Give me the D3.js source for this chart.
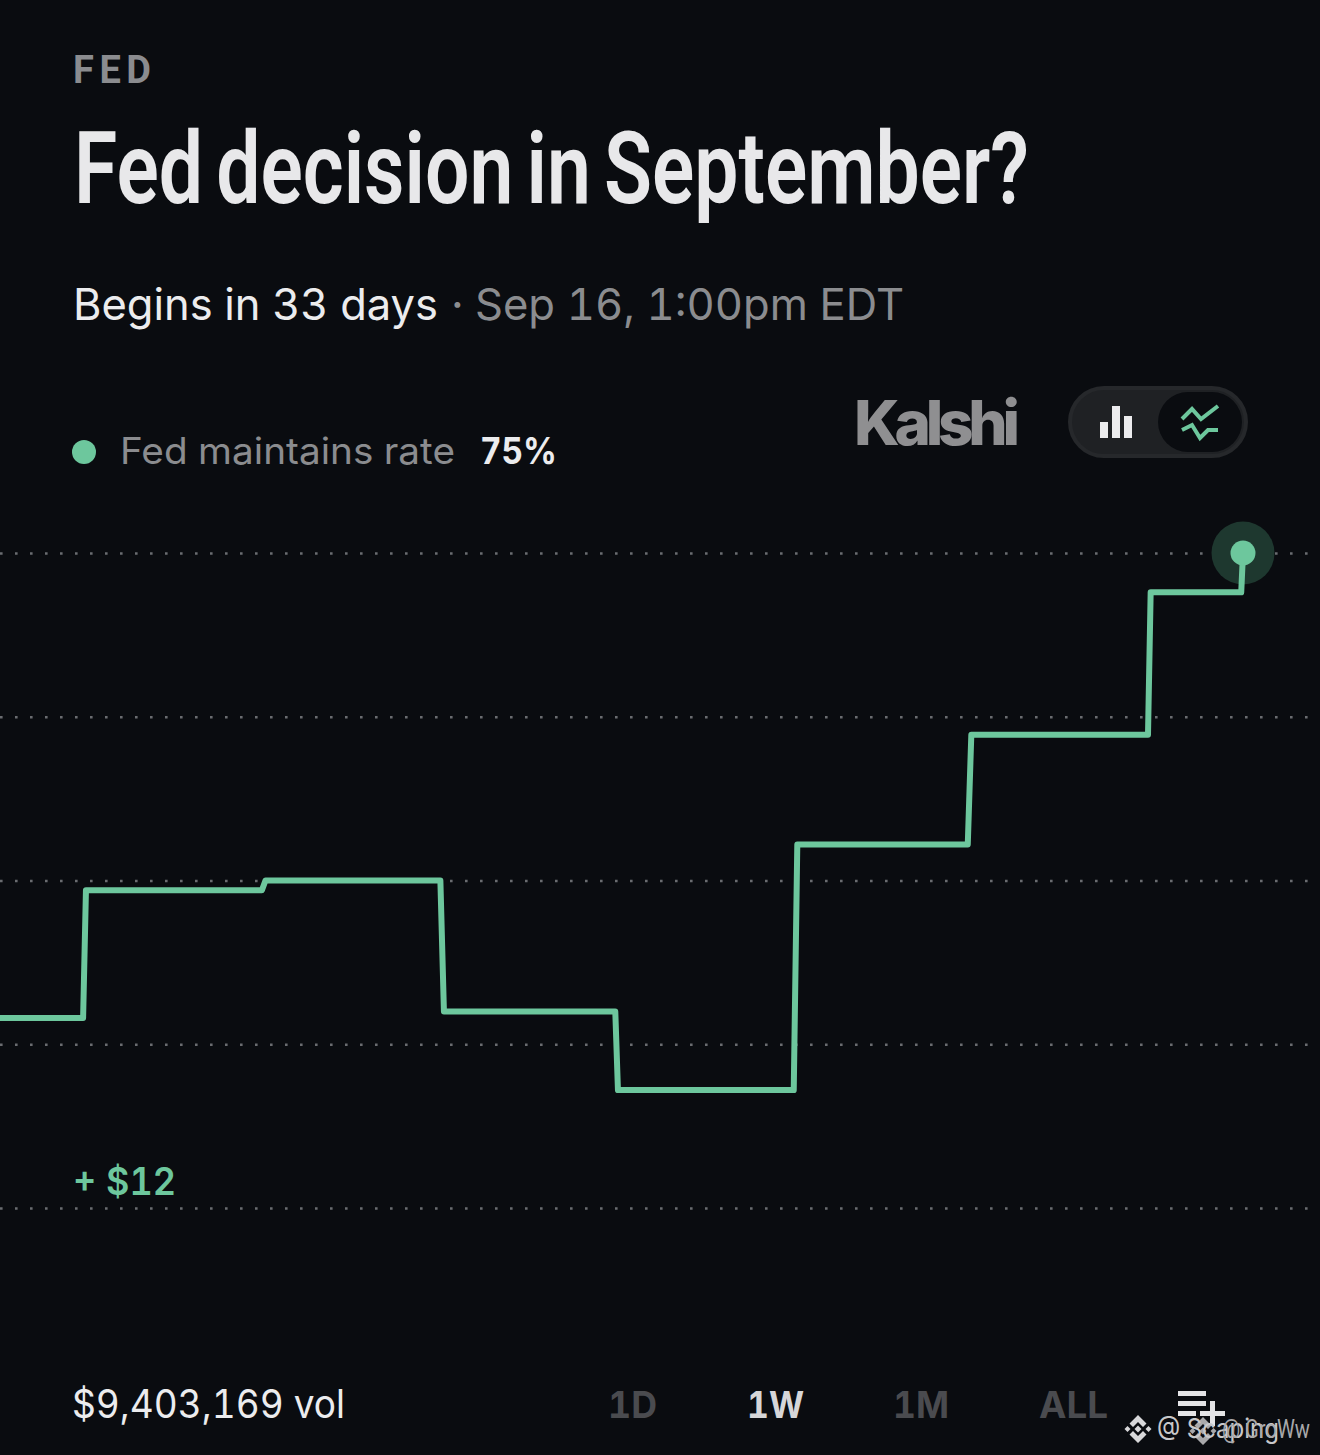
<!DOCTYPE html>
<html>
<head>
<meta charset="utf-8">
<style>
  html, body { margin: 0; padding: 0; background: #0a0c10; }
  svg { display: block; }
  text { font-family: Inter, Roboto, sans-serif; font-feature-settings: "tnum"; }
  .grid .domain { display: none; }
  .grid text { display: none; }
  .grid line { stroke: #6a6c70; stroke-width: 2.6; stroke-dasharray: 2.6 12.4; }
</style>
</head>
<body>
<svg width="1320" height="1455"></svg>
<script src="https://d3js.org/d3.v7.min.js"></script>
<script>
// days since start of the 1W window
var days = [0, 0.468, 0.484, 1.475, 1.495, 2.48, 2.50, 3.465, 3.48, 4.47, 4.49, 5.45, 5.47, 6.465, 6.48, 6.99, 7];
var chance = [60.8, 60.8, 64.7, 64.7, 65.0, 65.0, 61.0, 61.0, 58.6, 58.6, 66.1, 66.1, 69.45, 69.45, 73.8, 73.8, 75];
var gridTicks = [55, 60, 65, 70, 75];
var ranges = ["1D", "1W", "1M", "ALL"];

var green = "#6dc79d";
var svg = d3.select("svg");

var x = d3.scaleLinear().domain([0, 7]).range([0, 1243]);
var y = d3.scaleLinear().domain([55, 75]).range([1208, 553]);

function label(px, py, txt, size, weight, fill, width, adjust) {
    var t = svg.append("text")
        .attr("x", px).attr("y", py)
        .attr("font-size", size)
        .attr("font-weight", weight)
        .attr("fill", fill)
        .text(txt);
    if (width) t.attr("textLength", width).attr("lengthAdjust", adjust || "spacingAndGlyphs");
    return t;
}

// header
label(73, 83, "FED", 38, 700, "#8b8c8f", 78, "spacing").style("font-family", "Roboto");
label(74, 203, "Fed decision in September?", 100, 600, "#e8e8ea", 955)
    .style("font-family", "Roboto").style("word-spacing", "-8px");
label(73, 320, "Begins in 33 days", 44, 400, "#ececee", 365);
label(451, 320, "·", 44, 400, "#8b8c8f");
label(475, 320, "Sep 16, 1:00pm EDT", 44, 400, "#8b8c8f", 429);

// legend
svg.append("circle").attr("cx", 84).attr("cy", 452).attr("r", 12).attr("fill", green);
label(120, 464, "Fed maintains rate", 37, 400, "#8b8c8f", 335);
label(480, 464, "75%", 37, 700, "#ececee", 77);

// logo and toggle
label(854, 445, "Kalshi", 62, 800, "#8f8f91", 166, "spacing");
svg.append("rect").attr("x", 1070).attr("y", 388).attr("width", 176).attr("height", 68).attr("rx", 34)
    .attr("fill", "#1f2124").attr("stroke", "#26282b").attr("stroke-width", 4);
svg.append("rect").attr("x", 1158).attr("y", 392).attr("width", 84).attr("height", 60).attr("rx", 30)
    .attr("fill", "#0a0c10");
[[1100, 422, 16], [1112, 406, 32], [1124, 416, 22]].forEach(function(b) {
    svg.append("rect").attr("x", b[0]).attr("y", b[1]).attr("width", 8).attr("height", b[2]).attr("fill", "#ececee");
});
["M1182 419 L1192 409 L1201 419 L1218 406", "M1182 430 L1192 425 L1200 438 L1208 430 L1218 430"].forEach(function(d) {
    svg.append("path").attr("d", d).attr("fill", "none").attr("stroke", green).attr("stroke-width", 4);
});

// grid
svg.append("g").attr("class", "grid")
    .call(d3.axisRight(y).tickValues(gridTicks).tickSize(1320));

// line
var line = d3.line()
    .x(function(d, i) { return x(days[i]); })
    .y(function(d) { return y(d); });

svg.append("circle").attr("cx", x(7)).attr("cy", y(75)).attr("r", 31.5).attr("fill", "#1e382f");
svg.append("path")
    .datum(chance)
    .attr("d", line)
    .attr("fill", "none")
    .attr("stroke", green)
    .attr("stroke-width", 6)
    .attr("stroke-linejoin", "round");
svg.append("circle").attr("cx", x(7)).attr("cy", y(75)).attr("r", 12.5).attr("fill", green);

// gain + footer
label(73, 1195, "+ $12", 38, 600, green, 103);
label(72, 1418, "$9,403,169 vol", 39, 400, "#ececee", 273);

var rangeX = [608, 747, 893, 1039];
var rangeW = [49, 57, 56, 69];
ranges.forEach(function(r, i) {
    label(rangeX[i], 1418, r, 37, 700, r == "1W" ? "#d6d6d8" : "#4a4b4f", rangeW[i]);
});

// add-to-list icon
[[1178, 1391, 28], [1178, 1401, 28], [1178, 1411, 18]].forEach(function(b) {
    svg.append("rect").attr("x", b[0]).attr("y", b[1]).attr("width", b[2]).attr("height", 5).attr("fill", "#e4e4e6");
});
svg.append("rect").attr("x", 1200).attr("y", 1411).attr("width", 25).attr("height", 5).attr("fill", "#e4e4e6");
svg.append("rect").attr("x", 1210).attr("y", 1401).attr("width", 5).attr("height", 25).attr("fill", "#e4e4e6");

// watermark, two copies on top of each other
function logo(cx, cy, fill) {
    var g = svg.append("g").attr("transform", "translate(" + cx + "," + cy + ")").attr("fill", fill);
    g.append("path").attr("d", "M0 -14L8.5 -5.5L5 -2L0 -7L-5 -2L-8.5 -5.5Z");
    g.append("path").attr("d", "M0 14L8.5 5.5L5 2L0 7L-5 2L-8.5 5.5Z");
    g.append("path").attr("d", "M0 -3.5L3.5 0L0 3.5L-3.5 0Z");
    g.append("path").attr("d", "M-10.5 -3L-7.5 0L-10.5 3L-13.5 0Z");
    g.append("path").attr("d", "M10.5 -3L13.5 0L10.5 3L7.5 0Z");
}
logo(1138, 1429, "#d8d8da");
logo(1203, 1431, "#a9a9ab");
label(1157, 1438, "@ Scaping", 27, 400, "#c8c8ca", 122);
label(1222, 1438, "@ GroWw", 25, 400, "#a8a8aa", 88).style("font-family", "Roboto");
</script>
</body>
</html>
